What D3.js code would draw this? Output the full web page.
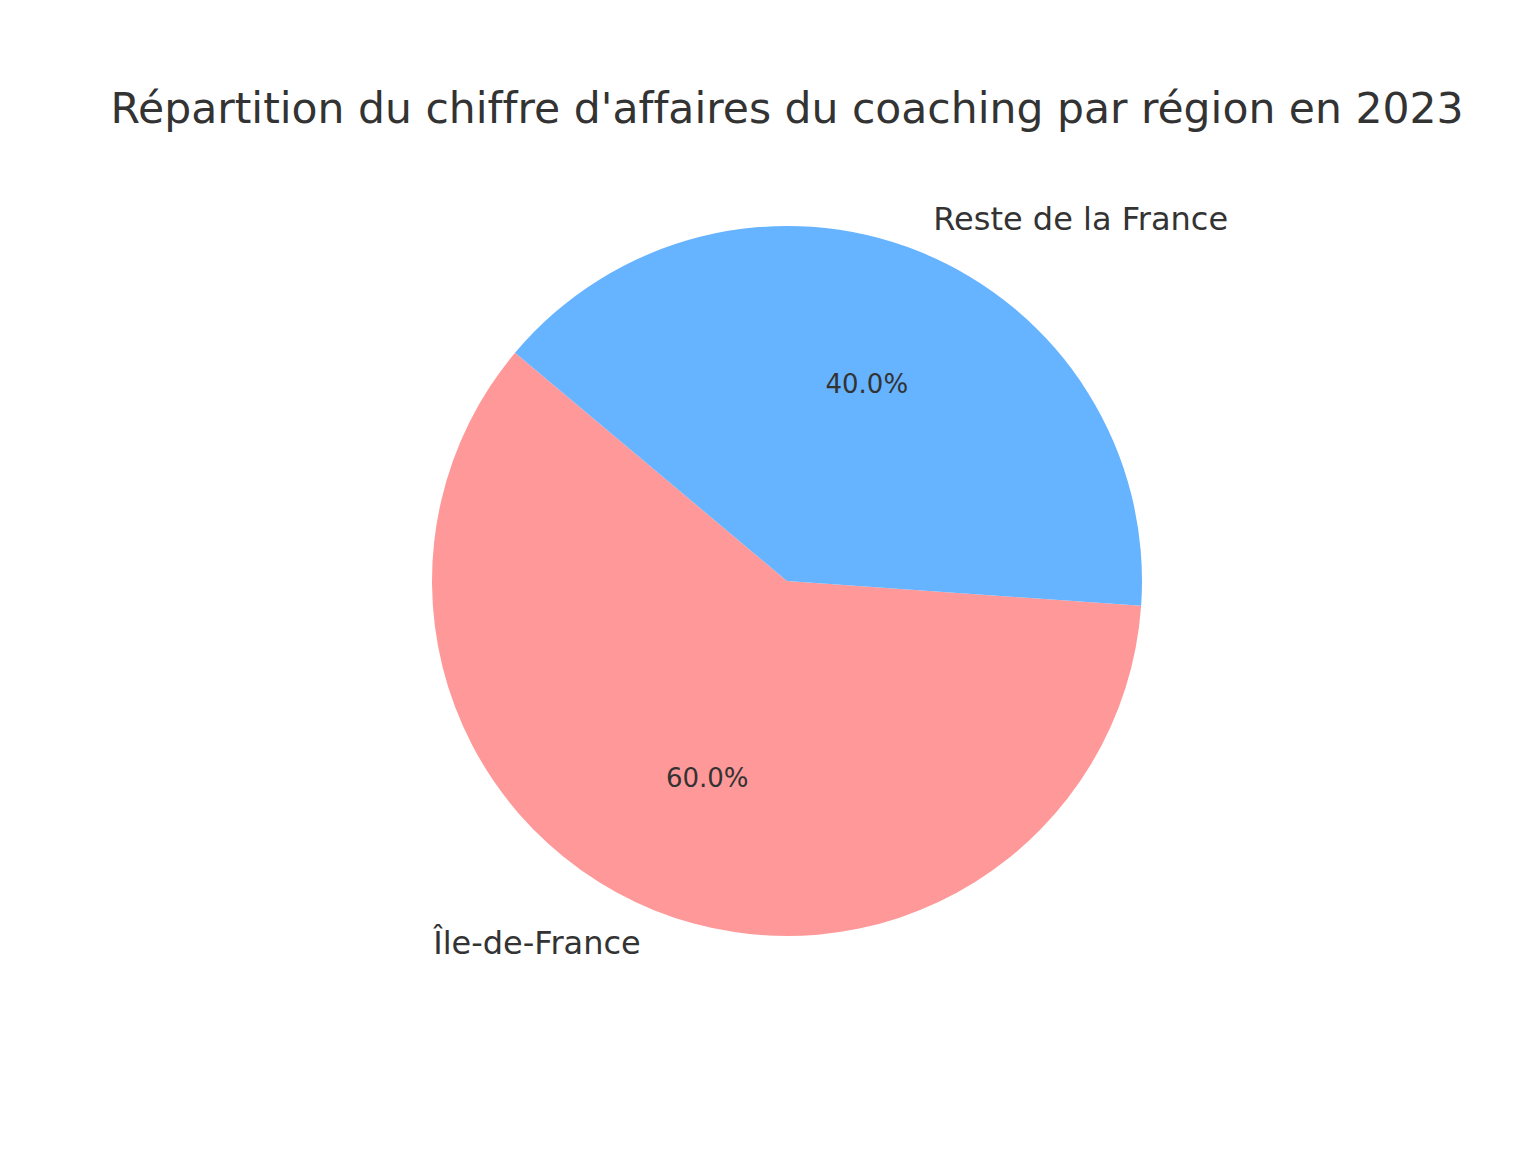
<!DOCTYPE html>
<html>
<head>
<meta charset="utf-8">
<script src="https://cdn.jsdelivr.net/npm/d3@7"></script>
<style>
  body { margin: 0; background: #fff; }
  text { font-family: "DejaVu Sans", sans-serif; fill: #333333; font-variant-ligatures: none; }
</style>
</head>
<body>
<script>
// data
const regions = ["Île-de-France", "Reste de la France"];
const shares = [60, 40];
const colors = ["#ff9999", "#66b3ff"];
const title = "Répartition du chiffre d'affaires du coaching par région en 2023";

const width = 1536, height = 1152;
const cx = 787, cy = 581, radius = 355;
const startAngle = 140; // degrees, counter-clockwise from 3 o'clock

const svg = d3.select("body").append("svg")
  .attr("width", width)
  .attr("height", height);

svg.append("text")
  .attr("x", cx)
  .attr("y", 123)
  .attr("text-anchor", "middle")
  .style("font-size", "42.5px")
  .text(title);

// d3 angles are clockwise from 12 o'clock; convert matplotlib style
const toD3 = deg => (90 - deg) * Math.PI / 180;
const total = d3.sum(shares);

const pie = d3.pie()
  .sort(null)
  .value(d => d)
  .startAngle(toD3(startAngle))
  .endAngle(toD3(startAngle) - 2 * Math.PI);

const arcs = pie(shares);
const arc = d3.arc().innerRadius(0).outerRadius(radius);

const g = svg.append("g").attr("transform", `translate(${cx},${cy})`);

g.selectAll("path")
  .data(arcs)
  .enter()
  .append("path")
  .attr("d", arc)
  .attr("fill", (d, i) => colors[i]);

function mid(d) { return (d.startAngle + d.endAngle) / 2; }

// category labels at 1.1 r
g.selectAll("text.label")
  .data(arcs)
  .enter()
  .append("text")
  .attr("class", "label")
  .attr("x", d => Math.sin(mid(d)) * radius * 1.1)
  .attr("y", d => -Math.cos(mid(d)) * radius * 1.1)
  .attr("text-anchor", d => Math.sin(mid(d)) < 0 ? "end" : "start")
  .attr("dominant-baseline", "central")
  .style("font-size", "32px")
  .text((d, i) => regions[i]);

// percentages at 0.6 r
g.selectAll("text.pct")
  .data(arcs)
  .enter()
  .append("text")
  .attr("class", "pct")
  .attr("x", d => Math.sin(mid(d)) * radius * 0.6)
  .attr("y", d => -Math.cos(mid(d)) * radius * 0.6)
  .attr("text-anchor", "middle")
  .attr("dominant-baseline", "central")
  .style("font-size", "26px")
  .text(d => (d.value / total * 100).toFixed(1) + "%");
</script>
</body>
</html>
